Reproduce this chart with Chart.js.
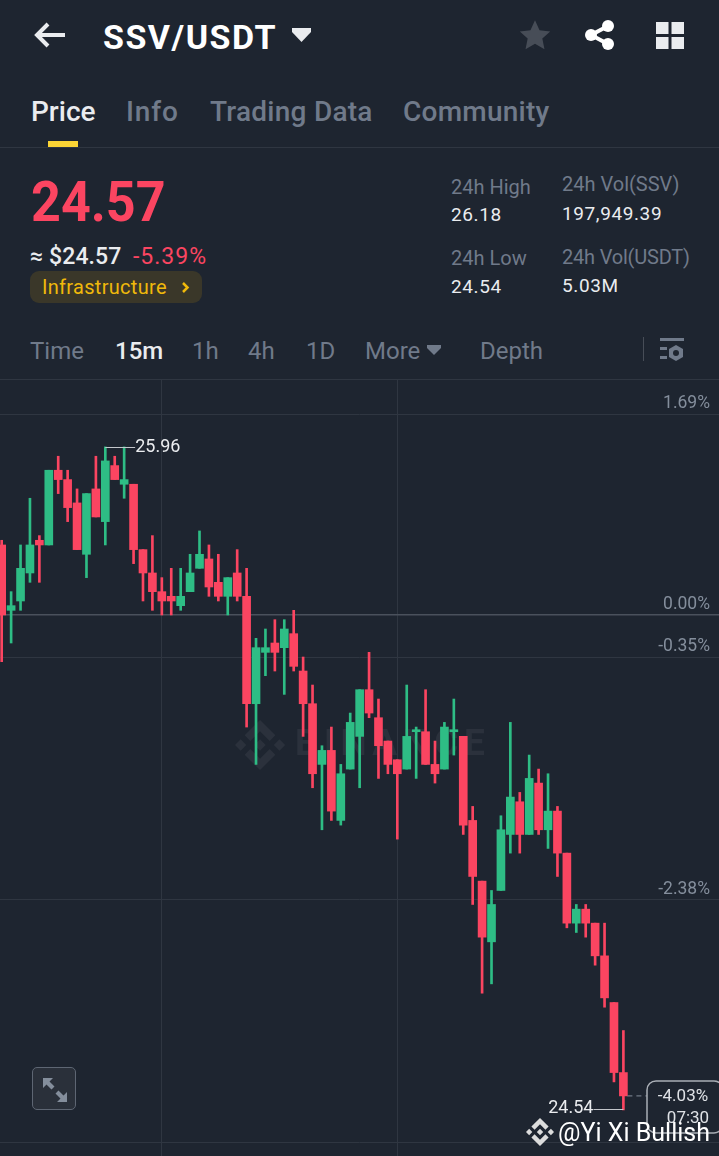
<!DOCTYPE html>
<html>
<head>
<meta charset="utf-8">
<title>SSV/USDT</title>
<script src="https://cdn.jsdelivr.net/npm/chart.js@4/dist/chart.umd.min.js"></script>
<style>
  html, body { margin: 0; padding: 0; background: #1e2530; }
  #page { position: relative; width: 719px; height: 1156px; overflow: hidden; background: #1e2530; font-family: Roboto, sans-serif; }
  #page span { position: absolute; white-space: nowrap; line-height: 1; }
  #page svg { position: absolute; }
  .rule { position: absolute; left: 0; width: 719px; height: 1px; background: #2f3641; }
  .tab { font-size: 28px; color: #707a8a; font-weight: 500; top: 98px; letter-spacing: .25px; }
  .stat { font-size: 20px; color: #707a8a; }
  .num { font-size: 19px; color: #eaecef; letter-spacing: .6px; }
  .tool { font-size: 24px; color: #707a8a; top: 339px; }
  canvas { position: absolute; left: 0; top: 380px; }
</style>
</head>
<body>
<div id="page">
  <svg style="left:34px;top:21px" width="34" height="28" viewBox="0 0 34 28"><path d="M31 14H4M14 3L3 14l11 11" fill="none" stroke="#eaecef" stroke-width="4"/></svg>
  <span style="left:103px;top:20px;font-size:34px;font-weight:700;color:#fff;letter-spacing:1.5px">SSV/USDT</span>
  <svg style="left:292px;top:28px" width="19" height="14" viewBox="0 0 19 14"><path d="M0 0h19v4l-9.500 10L0 4z" fill="#eaecef"/></svg>
  <svg style="left:519px;top:19px" width="32" height="32" viewBox="0 0 24 24"><path d="M12 1l3.400 7.400 8 .9-5.900 5.400 1.600 7.900-7.100-4-7.100 4 1.600-7.900L.6 9.300l8-.9z" fill="#474d57"/></svg>
  <svg style="left:584px;top:19px" width="31" height="32" viewBox="0 0 31 32"><path d="M24 7L7 16l17 9" fill="none" stroke="#fff" stroke-width="4"/><circle cx="24" cy="7" r="6" fill="#fff"/><circle cx="7" cy="16" r="6" fill="#fff"/><circle cx="24" cy="25" r="6" fill="#fff"/></svg>
  <svg style="left:656px;top:22px" width="28" height="27" viewBox="0 0 28 27"><path d="M0 0h12.500v12H0zM15.500 0H28v12H15.500zM0 15h12.500v12H0zM15.500 15H28v12H15.500z" fill="#eaecef"/></svg>

  <span class="tab" style="left:31px;color:#eaecef;letter-spacing:0">Price</span>
  <span class="tab" style="left:126px;letter-spacing:.9px">Info</span>
  <span class="tab" style="left:210px">Trading Data</span>
  <span class="tab" style="left:403px">Community</span>
  <div style="position:absolute;left:48px;top:141px;width:30px;height:6px;background:#fcd535"></div>
  <div class="rule" style="top:147px"></div>

  <span style="left:31px;top:174px;font-size:56px;font-weight:700;color:#fb4561;transform:scaleX(.93);transform-origin:left">24.57</span>
  <span style="left:30px;top:245px;font-size:23px;font-weight:500;color:#eaecef;letter-spacing:.1px">≈ $24.57</span>
  <span style="left:133px;top:245px;font-size:23px;color:#fb4561;letter-spacing:1px">-5.39%</span>
  <div style="position:absolute;left:30px;top:271px;width:172px;height:32px;border-radius:9px;background:#3a3729"></div>
  <span style="left:42px;top:277px;font-size:20px;color:#f0b90b;letter-spacing:.3px">Infrastructure</span>
  <svg style="left:181px;top:281px" width="9" height="13" viewBox="0 0 9 13"><path d="M2 2l4.500 4.500L2 11" fill="none" stroke="#f0b90b" stroke-width="2.500"/></svg>

  <span class="stat" style="left:451px;top:177px">24h High</span>
  <span class="num" style="left:451px;top:205px">26.18</span>
  <span class="stat" style="left:451px;top:248px">24h Low</span>
  <span class="num" style="left:451px;top:277px">24.54</span>
  <span class="stat" style="left:562px;top:174px">24h Vol(SSV)</span>
  <span class="num" style="left:562px;top:204px">197,949.39</span>
  <span class="stat" style="left:562px;top:247px;letter-spacing:-.2px">24h Vol(USDT)</span>
  <span class="num" style="left:562px;top:276px">5.03M</span>

  <span class="tool" style="left:30px">Time</span>
  <span class="tool" style="left:115px;color:#eaecef;font-weight:500">15m</span>
  <span class="tool" style="left:192px">1h</span>
  <span class="tool" style="left:248px">4h</span>
  <span class="tool" style="left:306px">1D</span>
  <span class="tool" style="left:365px">More</span>
  <svg style="left:427px;top:345px" width="14" height="10" viewBox="0 0 14 10"><path d="M0 0h14v3l-7 7-7-7z" fill="#707a8a"/></svg>
  <span class="tool" style="left:480px">Depth</span>
  <div style="position:absolute;left:643px;top:337px;width:1px;height:24px;background:#474d57"></div>
  <svg style="left:660px;top:338px" width="24" height="24" viewBox="0 0 24 24"><path d="M0 0h24v3H0zM0 9h7v3H0zM0 18h7v3H0z" fill="#707a8a"/><path d="M16 7l7 4v8l-7 4-7-4v-8z" fill="#707a8a"/><circle cx="16" cy="15" r="3" fill="#1e2530"/></svg>

  <div class="rule" style="top:379px"></div>
  <canvas id="chart" width="719" height="776"></canvas>

  <div style="position:absolute;left:32px;top:1067px;width:42px;height:41px;border:1.5px solid #5e6673;border-radius:5px;background:#2a303a"></div>
  <svg style="left:42px;top:1077px" width="26" height="26" viewBox="0 0 26 26"><path d="M1 1h10L7.500 4.500l5 5-3 3-5-5L1 11zM25 25H15l3.500-3.500-5-5 3-3 5 5L25 15z" fill="#848e9c"/></svg>

  <svg style="left:526px;top:1118px" width="28" height="28" viewBox="0 0 126.610 126.610"><path id="logo" d="M38.730 53.200l24.590-24.580 24.600 24.600 14.300-14.310L63.320 0 24.420 38.900l14.310 14.300zM0 63.310L14.300 49l14.310 14.310-14.310 14.300L0 63.310zm38.730 10.110l24.590 24.590 24.600-24.600 14.310 14.300-.01.010-38.900 38.910-38.900-38.880-.02-.02 14.330-14.310zM98.330 63.330L112.630 49l14.300 14.310-14.300 14.310-14.300-14.290zM77.830 63.300l-14.510-14.520-10.730 10.730-1.230 1.230-2.540 2.540-.02.02.02.02 14.500 14.500 14.510-14.520.01-.01z" fill="#dcdcdc"/></svg>
  <span style="left:558px;top:1120px;font-size:25px;color:#fff">@Yi Xi Bullish</span>
</div>

<script>
// 15m candles
const candleIndex = [0,1,2,3,4,5,6,7,8,9,10,11,12,13,14,15,16,17,18,19,20,21,22,23,24,25,26,27,28,29,30,31,32,33,34,35,36,37,38,39,40,41,42,43,44,45,46,47,48,49,50,51,52,53,54,55,56,57,58,59,60,61,62,63,64,65,66];
const opens = [25.75,25.61,25.63,25.69,25.76,25.75,25.91,25.89,25.84,25.73,25.87,25.80,25.92,25.88,25.88,25.74,25.69,25.65,25.64,25.62,25.65,25.70,25.72,25.67,25.64,25.69,25.64,25.41,25.52,25.54,25.53,25.56,25.48,25.41,25.28,25.31,25.16,25.27,25.34,25.44,25.38,25.33,25.29,25.27,25.35,25.35,25.28,25.27,25.35,25.34,25.16,25.03,24.90,25.01,25.13,25.20,25.13,25.24,25.14,25.18,25.09,24.94,24.97,24.94,24.87,24.77,24.62];
const highs = [25.76,25.65,25.75,25.85,25.77,25.91,25.94,25.91,25.87,25.86,25.94,25.96,25.94,25.96,25.88,25.74,25.77,25.68,25.70,25.70,25.73,25.78,25.75,25.73,25.68,25.74,25.70,25.55,25.57,25.59,25.59,25.61,25.51,25.45,25.32,25.36,25.28,25.39,25.44,25.52,25.42,25.33,25.29,25.45,25.36,25.44,25.33,25.37,25.42,25.34,25.19,25.03,25.01,25.17,25.37,25.22,25.30,25.27,25.26,25.19,25.09,24.98,24.98,24.94,24.94,24.77,24.71];
const lows = [25.50,25.54,25.61,25.67,25.67,25.75,25.86,25.80,25.74,25.68,25.81,25.75,25.89,25.85,25.71,25.63,25.61,25.60,25.60,25.61,25.65,25.70,25.64,25.63,25.60,25.63,25.36,25.28,25.47,25.48,25.43,25.48,25.34,25.23,25.14,25.16,25.15,25.27,25.23,25.38,25.25,25.26,25.12,25.27,25.25,25.28,25.24,25.27,25.30,25.13,24.98,24.79,24.81,25.01,25.09,25.09,25.13,25.13,25.10,25.04,24.93,24.92,24.91,24.85,24.76,24.60,24.54];
const closes = [25.60,25.62,25.70,25.75,25.75,25.91,25.89,25.83,25.74,25.86,25.81,25.93,25.89,25.89,25.74,25.69,25.65,25.63,25.63,25.64,25.69,25.73,25.66,25.64,25.68,25.64,25.41,25.53,25.53,25.52,25.57,25.49,25.41,25.26,25.31,25.18,25.26,25.37,25.44,25.39,25.32,25.28,25.26,25.34,25.35,25.28,25.26,25.36,25.35,25.15,25.04,24.91,24.98,25.14,25.21,25.13,25.25,25.14,25.18,25.09,24.94,24.97,24.94,24.87,24.78,24.62,24.57];

const priceTicks = [26.03, 25.60, 25.51, 24.99, 24.47];
const priceTickLabels = ['1.69%', '0.00%', '-0.35%', '-2.38%', ''];
const timeTicks = [17, 42];

const GREEN = '#2ebd85';
const RED = '#fb4561';
const BASE_PRICE = 25.60;
const HIGH_PRICE = 25.96, HIGH_AT = 11, HIGH_TO = 13;
const LOW_PRICE = 24.54, LOW_AT = 66;
const LAST_PRICE = 24.57;

const candleColors = candleIndex.map(i => closes[i] >= opens[i] ? GREEN : RED);

const watermark = {
    id: 'watermark',
    beforeDatasetsDraw(chart) {
        const ctx = chart.ctx;
        ctx.save();
        ctx.fillStyle = 'rgba(255,255,255,0.06)';
        ctx.translate(235, 340);
        ctx.scale(50 / 126.61, 50 / 126.61);
        ctx.fill(new Path2D(document.getElementById('logo').getAttribute('d')));
        ctx.restore();
        ctx.save();
        ctx.fillStyle = 'rgba(255,255,255,0.06)';
        ctx.font = '700 37px Roboto';
        ctx.letterSpacing = '5.5px';
        ctx.textBaseline = 'middle';
        ctx.fillText('BINANCE', 295, 366);
        ctx.restore();
    }
};

const priceMarks = {
    id: 'priceMarks',
    afterDatasetsDraw(chart) {
        const ctx = chart.ctx, x = chart.scales.x, y = chart.scales.y;
        ctx.save();
        ctx.lineWidth = 1;
        ctx.strokeStyle = '#c4c7cc';
        ctx.fillStyle = '#eaecef';
        ctx.font = '18px Roboto';
        ctx.textBaseline = 'middle';

        const hy = Math.round(y.getPixelForValue(HIGH_PRICE)) + 0.5;
        ctx.beginPath();
        ctx.moveTo(x.getPixelForValue(HIGH_AT), hy);
        ctx.lineTo(x.getPixelForValue(HIGH_TO) + 11, hy);
        ctx.stroke();
        ctx.fillText(HIGH_PRICE.toFixed(2), x.getPixelForValue(HIGH_TO) + 11, hy);

        const lx = x.getPixelForValue(LOW_AT);
        const ly = Math.round(y.getPixelForValue(LOW_PRICE)) - 0.5;
        ctx.beginPath();
        ctx.moveTo(lx, ly);
        ctx.lineTo(lx - 30, ly);
        ctx.stroke();
        ctx.textAlign = 'right';
        ctx.fillText(LOW_PRICE.toFixed(2), lx - 30, ly - 1);

        // last price: dashed lead-in and the countdown box
        const py = y.getPixelForValue(LAST_PRICE);
        ctx.strokeStyle = '#848e9c';
        ctx.setLineDash([5, 4]);
        ctx.beginPath();
        ctx.moveTo(lx + 4, py);
        ctx.lineTo(647, py);
        ctx.stroke();
        ctx.setLineDash([]);

        ctx.strokeStyle = '#a9aeb5';
        ctx.fillStyle = '#1e2530';
        ctx.lineWidth = 1.5;
        ctx.beginPath();
        ctx.roundRect(647, py - 15, 76, 52, 9);
        ctx.fill();
        ctx.stroke();
        ctx.fillStyle = '#dfe2e6';
        ctx.textAlign = 'center';
        ctx.font = '17px Roboto';
        ctx.fillText('-4.03%', 683, py + 1);
        ctx.fillText('07:30', 688, py + 23);
        ctx.restore();
    }
};

new Chart(document.getElementById('chart').getContext('2d'), {
    type: 'bar',
    data: {
        labels: candleIndex,
        datasets: [
            {
                label: 'Body',
                data: candleIndex.map(i => [opens[i], closes[i]]),
                backgroundColor: candleColors,
                barThickness: 8,
                minBarLength: 2,
                grouped: false
            },
            {
                label: 'Wick',
                data: candleIndex.map(i => [lows[i], highs[i]]),
                backgroundColor: candleColors,
                barThickness: 2,
                grouped: false
            }
        ]
    },
    options: {
        responsive: false,
        animation: false,
        events: [],
        layout: { padding: 0, autoPadding: false },
        plugins: { legend: { display: false }, tooltip: { enabled: false } },
        scales: {
            x: {
                type: 'linear',
                min: -0.18,
                max: 76.15,
                offset: false,
                afterBuildTicks: scale => { scale.ticks = timeTicks.map(value => ({ value })); },
                afterFit: scale => { scale.height = 0; scale.paddingLeft = 0; scale.paddingRight = 0; },
                grid: { offset: false, color: '#2f3641', drawTicks: false },
                border: { display: false },
                ticks: { display: false }
            },
            y: {
                position: 'right',
                min: 24.4413,
                max: 26.1033,
                afterBuildTicks: scale => { scale.ticks = priceTicks.map(value => ({ value })); },
                afterFit: scale => { scale.width = 0; scale.paddingTop = 0; scale.paddingBottom = 0; },
                grid: {
                    drawTicks: false,
                    color: c => c.tick.value === BASE_PRICE ? '#4a515c' : '#2f3641',
                    lineWidth: c => c.tick.value === BASE_PRICE ? 1.5 : 1
                },
                border: { display: false },
                ticks: {
                    mirror: true,
                    padding: -9,
                    autoSkip: false,
                    labelOffset: -10.5,
                    color: '#848e9c',
                    font: { family: 'Roboto', size: 17.5 },
                    callback: v => priceTickLabels[priceTicks.indexOf(v)]
                }
            }
        }
    },
    plugins: [watermark, priceMarks]
});
</script>
</body>
</html>
